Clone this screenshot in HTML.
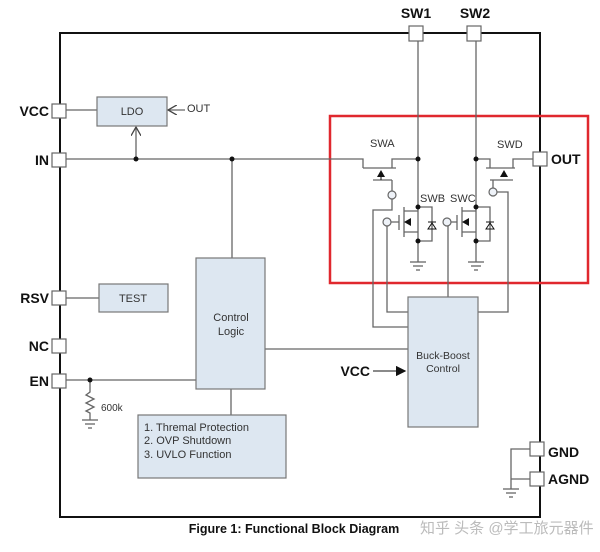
<!DOCTYPE html>
<html><head><style>body{margin:0;background:#fff}svg{display:block}</style></head><body>
<svg width="600" height="552" viewBox="0 0 600 552" xmlns="http://www.w3.org/2000/svg" font-family="Liberation Sans, Arial, sans-serif">
<defs>
<marker id="ah" markerWidth="8" markerHeight="8" refX="7" refY="4" orient="auto"><path d="M0,0 L8,4 L0,8 z" fill="#111"/></marker>
<marker id="oa" markerWidth="8" markerHeight="8" refX="7" refY="4" orient="auto"><path d="M0,0 L7,4 L0,8" fill="none" stroke="#444" stroke-width="1"/></marker>
</defs>
<!-- border -->
<rect x="60" y="33" width="480" height="484" fill="none" stroke="#111" stroke-width="2"/>
<!-- red box -->
<rect x="330" y="116" width="258" height="167" fill="none" stroke="#e0282e" stroke-width="2.5"/>
<g stroke="#666" stroke-width="1.3" fill="none">
<!-- IN line -->
<path d="M66,159 H363 V168"/>
<path d="M136,159 V127" marker-end="url(#oa)"/>
<path d="M232,159 V258"/>
<path d="M66,110 H97"/>
<path d="M185,110 H168" marker-end="url(#oa)"/>
<path d="M66,298 H99"/>
<path d="M66,380 H196"/>
<path d="M90,380 V392 l-4,3 l8,4 l-8,4 l8,4 l-8,4 l4,2 V420"/>
<path d="M231,389 V415"/>
<path d="M265,349 H408"/>
<!-- SW1/SW2 verticals -->
<path d="M418,41 V262"/>
<path d="M476,41 V262"/>
<!-- SWA -->
<path d="M363,168 H396 M392,168 V159 H418 M373,180 H392 M392,180 V191"/>
<path d="M392,199 V210 H373 V327 H408"/>
<!-- SWB -->
<path d="M404,207 V237 M404,211 H418 M404,232 H418 M399,215 V230 M391,222 H399"/>
<path d="M387,226 V312 H408"/>
<path d="M418,207 H432 V241 H418"/>
<!-- SWC -->
<path d="M462,207 V237 M462,211 H476 M462,232 H476 M457,215 V230 M451,222 H457"/>
<path d="M448,226 V297"/>
<path d="M476,207 H490 V241 H476"/>
<!-- SWD -->
<path d="M476,159 H490 V168 M486,168 H515 M513,168 V159 H533 M490,180 H513 M493,180 V188"/>
<path d="M497,192 H508 V312 H478"/>
<!-- GND -->
<path d="M530,449 H511 V489 M511,479 H530"/>
</g>
<g stroke="#666" stroke-width="1.3">
<line x1="410" y1="262" x2="426" y2="262"/><line x1="413" y1="266" x2="423" y2="266"/><line x1="416" y1="270" x2="420" y2="270"/>
<line x1="468" y1="262" x2="484" y2="262"/><line x1="471" y1="266" x2="481" y2="266"/><line x1="474" y1="270" x2="478" y2="270"/>
<line x1="82" y1="420" x2="98" y2="420"/><line x1="85" y1="424" x2="95" y2="424"/><line x1="88" y1="428" x2="92" y2="428"/>
<line x1="503" y1="489" x2="519" y2="489"/><line x1="506" y1="493" x2="516" y2="493"/><line x1="509" y1="497" x2="513" y2="497"/>
</g>
<!-- arrows / diodes -->
<g fill="#111">
<path d="M381,170 l-4,7 h8 z"/><line x1="381" y1="177" x2="381" y2="180" stroke="#111"/>
<path d="M504,170 l-4,7 h8 z"/>
<path d="M404,222 l7,-4 v8 z"/>
<path d="M462,222 l7,-4 v8 z"/>
<path d="M428,229 h8 l-4,-6 z" fill="none" stroke="#111"/><line x1="428" y1="222" x2="436" y2="222" stroke="#111"/>
<path d="M486,229 h8 l-4,-6 z" fill="none" stroke="#111"/><line x1="486" y1="222" x2="494" y2="222" stroke="#111"/>
<circle cx="136" cy="159" r="2.5"/><circle cx="232" cy="159" r="2.5"/><circle cx="90" cy="380" r="2.5"/>
<circle cx="418" cy="159" r="2.5"/><circle cx="476" cy="159" r="2.5"/>
<circle cx="418" cy="207" r="2.5"/><circle cx="418" cy="241" r="2.5"/>
<circle cx="476" cy="207" r="2.5"/><circle cx="476" cy="241" r="2.5"/>
</g>
<g fill="#eef2f8" stroke="#666" stroke-width="1.2">
<circle cx="392" cy="195" r="4"/><circle cx="387" cy="222" r="4"/><circle cx="447" cy="222" r="4"/><circle cx="493" cy="192" r="4"/>
</g>
<!-- blocks -->
<g fill="#dde7f1" stroke="#777" stroke-width="1.2">
<rect x="97" y="97" width="70" height="29"/>
<rect x="99" y="284" width="69" height="28"/>
<rect x="196" y="258" width="69" height="131"/>
<rect x="138" y="415" width="148" height="63"/>
<rect x="408" y="297" width="70" height="130"/>
</g>
<!-- pins -->
<g fill="#fff" stroke="#666" stroke-width="1.2">
<rect x="52" y="104" width="14" height="14"/><rect x="52" y="153" width="14" height="14"/>
<rect x="52" y="291" width="14" height="14"/><rect x="52" y="339" width="14" height="14"/>
<rect x="52" y="374" width="14" height="14"/>
<rect x="409" y="26" width="14" height="15"/><rect x="467" y="26" width="14" height="15"/>
<rect x="533" y="152" width="14" height="14"/>
<rect x="530" y="442" width="14" height="14"/><rect x="530" y="472" width="14" height="14"/>
</g>
<path d="M373,371 H405" stroke="#444" stroke-width="1.3" marker-end="url(#ah)"/>
<!-- labels -->
<g font-weight="bold" font-size="14" fill="#111">
<text x="49" y="116" text-anchor="end">VCC</text>
<text x="49" y="165" text-anchor="end">IN</text>
<text x="49" y="303" text-anchor="end">RSV</text>
<text x="49" y="351" text-anchor="end">NC</text>
<text x="49" y="386" text-anchor="end">EN</text>
<text x="416" y="18" text-anchor="middle">SW1</text>
<text x="475" y="18" text-anchor="middle">SW2</text>
<text x="551" y="164">OUT</text>
<text x="548" y="457">GND</text>
<text x="548" y="484">AGND</text>
<text x="370" y="376" text-anchor="end">VCC</text>
<text x="294" y="533" text-anchor="middle" font-size="12.5">Figure 1: Functional Block Diagram</text>
</g>
<g font-size="11" fill="#333">
<text x="132" y="115" text-anchor="middle">LDO</text>
<text x="187" y="112">OUT</text>
<text x="133" y="302" text-anchor="middle">TEST</text>
<text x="231" y="321" text-anchor="middle">Control</text>
<text x="231" y="335" text-anchor="middle">Logic</text>
<text x="101" y="411" font-size="10">600k</text>
<text x="144" y="431">1. Thremal Protection</text>
<text x="144" y="444">2. OVP Shutdown</text>
<text x="144" y="458">3. UVLO Function</text>
<text x="443" y="359" text-anchor="middle" font-size="10.5">Buck-Boost</text>
<text x="443" y="372" text-anchor="middle" font-size="10.5">Control</text>
<text x="370" y="147">SWA</text>
<text x="497" y="148">SWD</text>
<text x="420" y="202">SWB</text>
<text x="450" y="202">SWC</text>
</g>
<text x="420" y="533" font-size="15" fill="#bbb" font-family="Liberation Sans, Noto Sans CJK SC, sans-serif">知乎 头条 @学工旅元器件</text>
</svg>
</body></html>
